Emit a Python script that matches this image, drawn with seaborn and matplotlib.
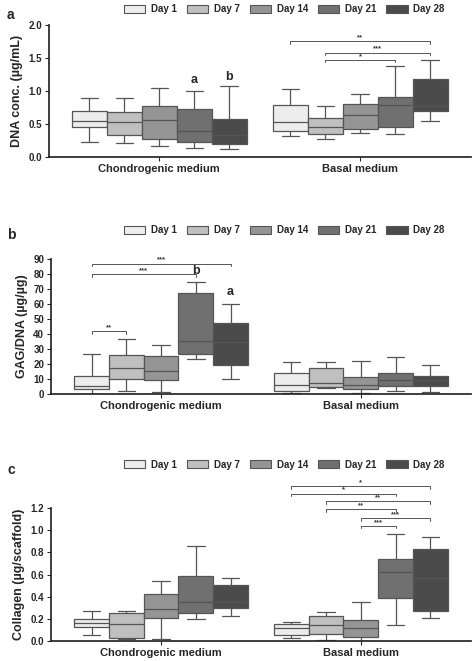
import numpy as np
import pandas as pd
import matplotlib
matplotlib.use("Agg")
import matplotlib.pyplot as plt
import seaborn as sns
from matplotlib.patches import Patch

days = ["Day 1", "Day 7", "Day 14", "Day 21", "Day 28"]
media = ["Chondrogenic medium", "Basal medium"]
colors = ["#ededed", "#bfbfbf", "#959595", "#707070", "#4b4b4b"]

# five-number summaries [min, q1, median, q3, max] per day
dna_chondro = [[.22, .45, .55, .70, .89], [.21, .33, .53, .68, .89], [.16, .27, .56, .77, 1.05],
               [.14, .22, .39, .73, 1.0], [.12, .19, .34, .57, 1.07]]
dna_basal = [[.32, .40, .53, .78, 1.03], [.27, .35, .46, .59, .77], [.37, .43, .63, .80, .95],
             [.35, .46, .79, .91, 1.38], [.54, .70, .77, 1.18, 1.47]]
gag_chondro = [[0, 3, 5, 12, 27], [2, 10, 17, 26, 37], [1, 9.5, 15, 25, 33],
               [23, 27, 35.5, 67.5, 75], [10, 19.5, 35, 47.5, 60]]
gag_basal = [[0.5, 2, 6, 14, 21], [4, 4.5, 7, 17, 21], [0.5, 3.5, 6, 11.5, 22],
             [2, 5, 9.5, 14, 24.5], [1.5, 5.5, 9.5, 12, 19.5]]
col_chondro = [[.05, .13, .16, .20, .27], [.02, .03, .15, .25, .27], [.02, .21, .29, .42, .54],
               [.20, .25, .35, .59, .86], [.23, .30, .35, .51, .57]]
col_basal = [[.03, .05, .12, .15, .17], [.01, .06, .14, .23, .26], [0, .04, .12, .19, .35],
             [.14, .39, .62, .74, .97], [.21, .27, .57, .83, .94]]

# brackets: (medium index, day i, day j, y, label)
dna_sig = [(1, 0, 4, 1.75, "**"), (1, 1, 4, 1.58, "***"), (1, 1, 3, 1.47, "*")]
dna_letters = [(0, 3, 1.08, "a"), (0, 4, 1.12, "b")]
gag_sig = [(0, 0, 4, 87, "***"), (0, 0, 3, 80, "***"), (0, 0, 1, 42, "**")]
gag_letters = [(0, 3, 78, "b"), (0, 4, 64, "a")]
col_sig = [(1, 0, 4, 1.40, "*"), (1, 0, 3, 1.33, "*"), (1, 1, 4, 1.26, "**"),
           (1, 1, 3, 1.19, "**"), (1, 2, 4, 1.11, "***"), (1, 2, 3, 1.04, "***")]

sns.set_theme(style="ticks")
plt.rcParams["font.family"] = ["Liberation Sans", "DejaVu Sans"]
plt.rcParams["font.weight"] = "bold"

fig = plt.figure(figsize=(4.74, 6.61), dpi=100)
width = 0.87


def to_frame(chondro, basal):
    rows = []
    for m, group in zip(media, [chondro, basal]):
        for d, vals in zip(days, group):
            for v in vals:
                rows.append((m, d, v))
    return pd.DataFrame(rows, columns=["medium", "day", "value"])


def xpos(m, d):
    return m + (d - 2) * width / 5


def panel(rect, chondro, basal, ylim, yticks, fmt, ylabel, sig, letters, label, leg_y):
    ax = fig.add_axes(rect)
    df = to_frame(chondro, basal)
    sns.boxplot(data=df, x="medium", y="value", hue="day", order=media, hue_order=days,
                palette=colors, width=width, gap=0, whis=np.inf, linewidth=0.9,
                linecolor="#555555", ax=ax, legend=False)
    ax.set_xlim(-0.55, 1.55)
    ax.set_ylim(*ylim)
    ax.set_yticks(yticks)
    ax.set_yticklabels([fmt.format(t) for t in yticks], fontsize=7, fontweight="bold")
    ax.set_xticks([0, 1])
    ax.set_xticklabels(media, fontsize=8, fontweight="bold")
    ax.set_xlabel("")
    ax.set_ylabel(ylabel, fontsize=9, fontweight="bold")
    ax.tick_params(length=3, width=0.8, pad=2)
    sns.despine(ax=ax)
    for m, i, j, y, t in sig:
        x1, x2 = xpos(m, i), xpos(m, j)
        h = (ylim[1] - ylim[0]) * 0.02
        ax.plot([x1, x1, x2, x2], [y - h, y, y, y - h], color="#555555", lw=0.7, clip_on=False)
        ax.text((x1 + x2) / 2, y, t, ha="center", va="bottom", fontsize=5.5, color="#333333")
    for m, d, y, t in letters:
        ax.text(xpos(m, d), y, t, ha="center", va="bottom", fontsize=9, fontweight="bold")
    handles = [Patch(facecolor=c, edgecolor="#555555", lw=0.8, label=d) for c, d in zip(colors, days)]
    fig.legend(handles=handles, loc="center", bbox_to_anchor=(0.6, leg_y), ncol=5, frameon=False,
               fontsize=7, handlelength=2.2, handleheight=0.9, columnspacing=1.0, handletextpad=0.6,
               prop={"weight": "bold", "size": 7})
    fig.text(0.015, leg_y - 0.008, label, fontsize=10, fontweight="bold", va="center")
    return ax


panel([0.103, 0.7625, 0.89, 0.2], dna_chondro, dna_basal, (0, 2.0), [0, 0.5, 1.0, 1.5, 2.0],
      "{:.1f}", "DNA conc. (\u00b5g/mL)", dna_sig, dna_letters, "a", 0.986)
panel([0.108, 0.404, 0.885, 0.204], gag_chondro, gag_basal, (0, 90), list(range(0, 100, 10)),
      "{:d}", "GAG/DNA (\u00b5g/\u00b5g)", gag_sig, gag_letters, "b", 0.652)
panel([0.108, 0.0303, 0.885, 0.201], col_chondro, col_basal, (0, 1.2), [0, 0.2, 0.4, 0.6, 0.8, 1.0, 1.2],
      "{:.1f}", "Collagen (\u00b5g/scaffold)", col_sig, [], "c", 0.297)

fig.savefig("out.png", dpi=100)
